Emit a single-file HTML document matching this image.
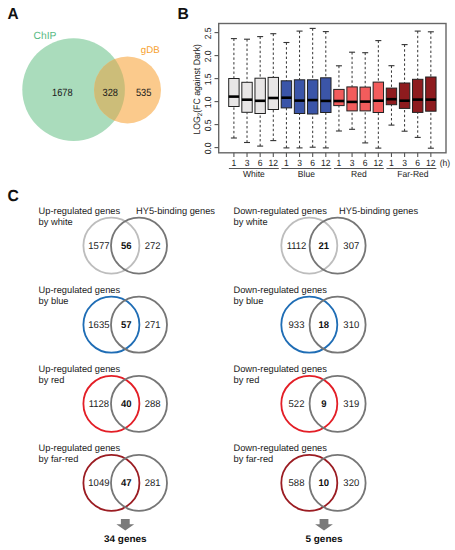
<!DOCTYPE html>
<html><head><meta charset="utf-8"><style>
html,body{margin:0;padding:0;background:#fff;width:455px;height:550px;overflow:hidden}
svg{display:block}
text{font-family:"Liberation Sans", sans-serif;text-rendering:geometricPrecision}
</style></head><body>
<svg width="455" height="550" viewBox="0 0 455 550">
<text transform="translate(7.6 19.1) scale(0.96 1)" font-size="16" font-weight="bold" fill="#111">A</text>
<defs><clipPath id="gclip"><circle cx="73.6" cy="89.6" r="51.3"/></clipPath></defs>
<circle cx="73.6" cy="89.6" r="51.3" fill="#aadcbc"/>
<circle cx="127.5" cy="89.9" r="33.5" fill="#fbca8c"/>
<circle cx="127.5" cy="89.9" r="33.5" fill="#ccbd79" clip-path="url(#gclip)"/>
<text x="33.6" y="38.5" font-size="10.3" fill="#58ba84">ChIP</text>
<text x="140.8" y="52.8" font-size="9.7" fill="#f7a02e">gDB</text>
<text transform="translate(62.3 96.2) scale(0.88 1)" text-anchor="middle" font-size="10.5" fill="#1a1a1a">1678</text>
<text transform="translate(110.2 96) scale(0.88 1)" text-anchor="middle" font-size="10.5" fill="#1a1a1a">328</text>
<text transform="translate(143.6 96) scale(0.88 1)" text-anchor="middle" font-size="10.5" fill="#1a1a1a">535</text>
<text transform="translate(177.6 19.1) scale(0.98 1)" font-size="16" font-weight="bold" fill="#111">B</text>
<rect x="218.7" y="23.5" width="227.30" height="129.30" fill="none" stroke="#666" stroke-width="1.4"/>
<line x1="214.5" y1="147.60" x2="218.7" y2="147.60" stroke="#555" stroke-width="1.1"/>
<text transform="translate(211.4 148.40) rotate(-90) scale(0.95 1)" text-anchor="middle" font-size="9" fill="#222">0.0</text>
<line x1="214.5" y1="124.60" x2="218.7" y2="124.60" stroke="#555" stroke-width="1.1"/>
<text transform="translate(211.4 125.40) rotate(-90) scale(0.95 1)" text-anchor="middle" font-size="9" fill="#222">0.5</text>
<line x1="214.5" y1="101.60" x2="218.7" y2="101.60" stroke="#555" stroke-width="1.1"/>
<text transform="translate(211.4 102.40) rotate(-90) scale(0.95 1)" text-anchor="middle" font-size="9" fill="#222">1.0</text>
<line x1="214.5" y1="78.60" x2="218.7" y2="78.60" stroke="#555" stroke-width="1.1"/>
<text transform="translate(211.4 79.40) rotate(-90) scale(0.95 1)" text-anchor="middle" font-size="9" fill="#222">1.5</text>
<line x1="214.5" y1="55.60" x2="218.7" y2="55.60" stroke="#555" stroke-width="1.1"/>
<text transform="translate(211.4 56.40) rotate(-90) scale(0.95 1)" text-anchor="middle" font-size="9" fill="#222">2.0</text>
<line x1="214.5" y1="32.60" x2="218.7" y2="32.60" stroke="#555" stroke-width="1.1"/>
<text transform="translate(211.4 33.40) rotate(-90) scale(0.95 1)" text-anchor="middle" font-size="9" fill="#222">2.5</text>
<text transform="translate(199.9 89.3) rotate(-90) scale(0.93 1)" text-anchor="middle" font-size="9.4" fill="#222">LOG<tspan font-size="6.5" dy="2">2</tspan><tspan dy="-2">(FC against Dark)</tspan></text>
<line x1="233.90" y1="38.6" x2="233.90" y2="78.5" stroke="#333" stroke-width="1" stroke-dasharray="2.4 2.3"/>
<line x1="233.90" y1="138" x2="233.90" y2="106.5" stroke="#333" stroke-width="1" stroke-dasharray="2.4 2.3"/>
<line x1="230.90" y1="38.6" x2="236.90" y2="38.6" stroke="#333" stroke-width="1.1"/>
<line x1="230.90" y1="138" x2="236.90" y2="138" stroke="#333" stroke-width="1.1"/>
<rect x="228.70" y="78.5" width="10.40" height="28.00" fill="#e8e6e6" stroke="#222" stroke-width="1"/>
<line x1="228.70" y1="96.6" x2="239.10" y2="96.6" stroke="#000" stroke-width="2.6"/>
<line x1="233.90" y1="152.8" x2="233.90" y2="157" stroke="#555" stroke-width="1.1"/>
<text transform="translate(233.90 165.7) scale(0.95 1)" text-anchor="middle" font-size="9" fill="#222">1</text>
<line x1="247.03" y1="39.2" x2="247.03" y2="82.3" stroke="#333" stroke-width="1" stroke-dasharray="2.4 2.3"/>
<line x1="247.03" y1="142.5" x2="247.03" y2="112.3" stroke="#333" stroke-width="1" stroke-dasharray="2.4 2.3"/>
<line x1="244.03" y1="39.2" x2="250.03" y2="39.2" stroke="#333" stroke-width="1.1"/>
<line x1="244.03" y1="142.5" x2="250.03" y2="142.5" stroke="#333" stroke-width="1.1"/>
<rect x="241.83" y="82.3" width="10.40" height="30.00" fill="#e8e6e6" stroke="#222" stroke-width="1"/>
<line x1="241.83" y1="99.7" x2="252.23" y2="99.7" stroke="#000" stroke-width="2.6"/>
<line x1="247.03" y1="152.8" x2="247.03" y2="157" stroke="#555" stroke-width="1.1"/>
<text transform="translate(247.03 165.7) scale(0.95 1)" text-anchor="middle" font-size="9" fill="#222">3</text>
<line x1="260.16" y1="36.6" x2="260.16" y2="78.2" stroke="#333" stroke-width="1" stroke-dasharray="2.4 2.3"/>
<line x1="260.16" y1="146.1" x2="260.16" y2="113.5" stroke="#333" stroke-width="1" stroke-dasharray="2.4 2.3"/>
<line x1="257.16" y1="36.6" x2="263.16" y2="36.6" stroke="#333" stroke-width="1.1"/>
<line x1="257.16" y1="146.1" x2="263.16" y2="146.1" stroke="#333" stroke-width="1.1"/>
<rect x="254.96" y="78.2" width="10.40" height="35.30" fill="#e8e6e6" stroke="#222" stroke-width="1"/>
<line x1="254.96" y1="100.8" x2="265.36" y2="100.8" stroke="#000" stroke-width="2.6"/>
<line x1="260.16" y1="152.8" x2="260.16" y2="157" stroke="#555" stroke-width="1.1"/>
<text transform="translate(260.16 165.7) scale(0.95 1)" text-anchor="middle" font-size="9" fill="#222">6</text>
<line x1="273.29" y1="33.7" x2="273.29" y2="77.4" stroke="#333" stroke-width="1" stroke-dasharray="2.4 2.3"/>
<line x1="273.29" y1="140.6" x2="273.29" y2="109.5" stroke="#333" stroke-width="1" stroke-dasharray="2.4 2.3"/>
<line x1="270.29" y1="33.7" x2="276.29" y2="33.7" stroke="#333" stroke-width="1.1"/>
<line x1="270.29" y1="140.6" x2="276.29" y2="140.6" stroke="#333" stroke-width="1.1"/>
<rect x="268.09" y="77.4" width="10.40" height="32.10" fill="#e8e6e6" stroke="#222" stroke-width="1"/>
<line x1="268.09" y1="98" x2="278.49" y2="98" stroke="#000" stroke-width="2.6"/>
<line x1="273.29" y1="152.8" x2="273.29" y2="157" stroke="#555" stroke-width="1.1"/>
<text transform="translate(273.29 165.7) scale(0.95 1)" text-anchor="middle" font-size="9" fill="#222">12</text>
<line x1="286.42" y1="42.5" x2="286.42" y2="80.8" stroke="#333" stroke-width="1" stroke-dasharray="2.4 2.3"/>
<line x1="286.42" y1="147.9" x2="286.42" y2="107.9" stroke="#333" stroke-width="1" stroke-dasharray="2.4 2.3"/>
<line x1="283.42" y1="42.5" x2="289.42" y2="42.5" stroke="#333" stroke-width="1.1"/>
<line x1="283.42" y1="147.9" x2="289.42" y2="147.9" stroke="#333" stroke-width="1.1"/>
<rect x="281.22" y="80.8" width="10.40" height="27.10" fill="#3b55a8" stroke="#222" stroke-width="1"/>
<line x1="281.22" y1="97.7" x2="291.62" y2="97.7" stroke="#000" stroke-width="2.6"/>
<line x1="286.42" y1="152.8" x2="286.42" y2="157" stroke="#555" stroke-width="1.1"/>
<text transform="translate(286.42 165.7) scale(0.95 1)" text-anchor="middle" font-size="9" fill="#222">1</text>
<line x1="299.55" y1="31.1" x2="299.55" y2="79.8" stroke="#333" stroke-width="1" stroke-dasharray="2.4 2.3"/>
<line x1="299.55" y1="147.9" x2="299.55" y2="113.5" stroke="#333" stroke-width="1" stroke-dasharray="2.4 2.3"/>
<line x1="296.55" y1="31.1" x2="302.55" y2="31.1" stroke="#333" stroke-width="1.1"/>
<line x1="296.55" y1="147.9" x2="302.55" y2="147.9" stroke="#333" stroke-width="1.1"/>
<rect x="294.35" y="79.8" width="10.40" height="33.70" fill="#3b55a8" stroke="#222" stroke-width="1"/>
<line x1="294.35" y1="100.6" x2="304.75" y2="100.6" stroke="#000" stroke-width="2.6"/>
<line x1="299.55" y1="152.8" x2="299.55" y2="157" stroke="#555" stroke-width="1.1"/>
<text transform="translate(299.55 165.7) scale(0.95 1)" text-anchor="middle" font-size="9" fill="#222">3</text>
<line x1="312.68" y1="28.4" x2="312.68" y2="79.8" stroke="#333" stroke-width="1" stroke-dasharray="2.4 2.3"/>
<line x1="312.68" y1="147.2" x2="312.68" y2="114" stroke="#333" stroke-width="1" stroke-dasharray="2.4 2.3"/>
<line x1="309.68" y1="28.4" x2="315.68" y2="28.4" stroke="#333" stroke-width="1.1"/>
<line x1="309.68" y1="147.2" x2="315.68" y2="147.2" stroke="#333" stroke-width="1.1"/>
<rect x="307.48" y="79.8" width="10.40" height="34.20" fill="#3b55a8" stroke="#222" stroke-width="1"/>
<line x1="307.48" y1="100.1" x2="317.88" y2="100.1" stroke="#000" stroke-width="2.6"/>
<line x1="312.68" y1="152.8" x2="312.68" y2="157" stroke="#555" stroke-width="1.1"/>
<text transform="translate(312.68 165.7) scale(0.95 1)" text-anchor="middle" font-size="9" fill="#222">6</text>
<line x1="325.81" y1="31.6" x2="325.81" y2="77.8" stroke="#333" stroke-width="1" stroke-dasharray="2.4 2.3"/>
<line x1="325.81" y1="147.9" x2="325.81" y2="112.5" stroke="#333" stroke-width="1" stroke-dasharray="2.4 2.3"/>
<line x1="322.81" y1="31.6" x2="328.81" y2="31.6" stroke="#333" stroke-width="1.1"/>
<line x1="322.81" y1="147.9" x2="328.81" y2="147.9" stroke="#333" stroke-width="1.1"/>
<rect x="320.61" y="77.8" width="10.40" height="34.70" fill="#3b55a8" stroke="#222" stroke-width="1"/>
<line x1="320.61" y1="100.9" x2="331.01" y2="100.9" stroke="#000" stroke-width="2.6"/>
<line x1="325.81" y1="152.8" x2="325.81" y2="157" stroke="#555" stroke-width="1.1"/>
<text transform="translate(325.81 165.7) scale(0.95 1)" text-anchor="middle" font-size="9" fill="#222">12</text>
<line x1="338.94" y1="65.8" x2="338.94" y2="89.4" stroke="#333" stroke-width="1" stroke-dasharray="2.4 2.3"/>
<line x1="338.94" y1="131" x2="338.94" y2="105.6" stroke="#333" stroke-width="1" stroke-dasharray="2.4 2.3"/>
<line x1="335.94" y1="65.8" x2="341.94" y2="65.8" stroke="#333" stroke-width="1.1"/>
<line x1="335.94" y1="131" x2="341.94" y2="131" stroke="#333" stroke-width="1.1"/>
<rect x="333.74" y="89.4" width="10.40" height="16.20" fill="#f35c5c" stroke="#222" stroke-width="1"/>
<line x1="333.74" y1="101" x2="344.14" y2="101" stroke="#000" stroke-width="2.6"/>
<line x1="338.94" y1="152.8" x2="338.94" y2="157" stroke="#555" stroke-width="1.1"/>
<text transform="translate(338.94 165.7) scale(0.95 1)" text-anchor="middle" font-size="9" fill="#222">1</text>
<line x1="352.07" y1="52.2" x2="352.07" y2="86.9" stroke="#333" stroke-width="1" stroke-dasharray="2.4 2.3"/>
<line x1="352.07" y1="129.3" x2="352.07" y2="110.9" stroke="#333" stroke-width="1" stroke-dasharray="2.4 2.3"/>
<line x1="349.07" y1="52.2" x2="355.07" y2="52.2" stroke="#333" stroke-width="1.1"/>
<line x1="349.07" y1="129.3" x2="355.07" y2="129.3" stroke="#333" stroke-width="1.1"/>
<rect x="346.87" y="86.9" width="10.40" height="24.00" fill="#f35c5c" stroke="#222" stroke-width="1"/>
<line x1="346.87" y1="101.9" x2="357.27" y2="101.9" stroke="#000" stroke-width="2.6"/>
<line x1="352.07" y1="152.8" x2="352.07" y2="157" stroke="#555" stroke-width="1.1"/>
<text transform="translate(352.07 165.7) scale(0.95 1)" text-anchor="middle" font-size="9" fill="#222">3</text>
<line x1="365.20" y1="52.7" x2="365.20" y2="87.1" stroke="#333" stroke-width="1" stroke-dasharray="2.4 2.3"/>
<line x1="365.20" y1="142.9" x2="365.20" y2="110.9" stroke="#333" stroke-width="1" stroke-dasharray="2.4 2.3"/>
<line x1="362.20" y1="52.7" x2="368.20" y2="52.7" stroke="#333" stroke-width="1.1"/>
<line x1="362.20" y1="142.9" x2="368.20" y2="142.9" stroke="#333" stroke-width="1.1"/>
<rect x="360.00" y="87.1" width="10.40" height="23.80" fill="#f35c5c" stroke="#222" stroke-width="1"/>
<line x1="360.00" y1="101.6" x2="370.40" y2="101.6" stroke="#000" stroke-width="2.6"/>
<line x1="365.20" y1="152.8" x2="365.20" y2="157" stroke="#555" stroke-width="1.1"/>
<text transform="translate(365.20 165.7) scale(0.95 1)" text-anchor="middle" font-size="9" fill="#222">6</text>
<line x1="378.33" y1="40.6" x2="378.33" y2="82.1" stroke="#333" stroke-width="1" stroke-dasharray="2.4 2.3"/>
<line x1="378.33" y1="148.1" x2="378.33" y2="112.5" stroke="#333" stroke-width="1" stroke-dasharray="2.4 2.3"/>
<line x1="375.33" y1="40.6" x2="381.33" y2="40.6" stroke="#333" stroke-width="1.1"/>
<line x1="375.33" y1="148.1" x2="381.33" y2="148.1" stroke="#333" stroke-width="1.1"/>
<rect x="373.13" y="82.1" width="10.40" height="30.40" fill="#f35c5c" stroke="#222" stroke-width="1"/>
<line x1="373.13" y1="100.7" x2="383.53" y2="100.7" stroke="#000" stroke-width="2.6"/>
<line x1="378.33" y1="152.8" x2="378.33" y2="157" stroke="#555" stroke-width="1.1"/>
<text transform="translate(378.33 165.7) scale(0.95 1)" text-anchor="middle" font-size="9" fill="#222">12</text>
<line x1="391.46" y1="65.7" x2="391.46" y2="88.1" stroke="#333" stroke-width="1" stroke-dasharray="2.4 2.3"/>
<line x1="391.46" y1="125.1" x2="391.46" y2="104.7" stroke="#333" stroke-width="1" stroke-dasharray="2.4 2.3"/>
<line x1="388.46" y1="65.7" x2="394.46" y2="65.7" stroke="#333" stroke-width="1.1"/>
<line x1="388.46" y1="125.1" x2="394.46" y2="125.1" stroke="#333" stroke-width="1.1"/>
<rect x="386.26" y="88.1" width="10.40" height="16.60" fill="#8e1b1e" stroke="#222" stroke-width="1"/>
<line x1="386.26" y1="99.2" x2="396.66" y2="99.2" stroke="#000" stroke-width="2.6"/>
<line x1="391.46" y1="152.8" x2="391.46" y2="157" stroke="#555" stroke-width="1.1"/>
<text transform="translate(391.46 165.7) scale(0.95 1)" text-anchor="middle" font-size="9" fill="#222">1</text>
<line x1="404.59" y1="44.6" x2="404.59" y2="83" stroke="#333" stroke-width="1" stroke-dasharray="2.4 2.3"/>
<line x1="404.59" y1="131.2" x2="404.59" y2="108.4" stroke="#333" stroke-width="1" stroke-dasharray="2.4 2.3"/>
<line x1="401.59" y1="44.6" x2="407.59" y2="44.6" stroke="#333" stroke-width="1.1"/>
<line x1="401.59" y1="131.2" x2="407.59" y2="131.2" stroke="#333" stroke-width="1.1"/>
<rect x="399.39" y="83" width="10.40" height="25.40" fill="#8e1b1e" stroke="#222" stroke-width="1"/>
<line x1="399.39" y1="100.7" x2="409.79" y2="100.7" stroke="#000" stroke-width="2.6"/>
<line x1="404.59" y1="152.8" x2="404.59" y2="157" stroke="#555" stroke-width="1.1"/>
<text transform="translate(404.59 165.7) scale(0.95 1)" text-anchor="middle" font-size="9" fill="#222">3</text>
<line x1="417.72" y1="31.1" x2="417.72" y2="79.3" stroke="#333" stroke-width="1" stroke-dasharray="2.4 2.3"/>
<line x1="417.72" y1="137.4" x2="417.72" y2="112.4" stroke="#333" stroke-width="1" stroke-dasharray="2.4 2.3"/>
<line x1="414.72" y1="31.1" x2="420.72" y2="31.1" stroke="#333" stroke-width="1.1"/>
<line x1="414.72" y1="137.4" x2="420.72" y2="137.4" stroke="#333" stroke-width="1.1"/>
<rect x="412.52" y="79.3" width="10.40" height="33.10" fill="#8e1b1e" stroke="#222" stroke-width="1"/>
<line x1="412.52" y1="99.6" x2="422.92" y2="99.6" stroke="#000" stroke-width="2.6"/>
<line x1="417.72" y1="152.8" x2="417.72" y2="157" stroke="#555" stroke-width="1.1"/>
<text transform="translate(417.72 165.7) scale(0.95 1)" text-anchor="middle" font-size="9" fill="#222">6</text>
<line x1="430.85" y1="31.8" x2="430.85" y2="77" stroke="#333" stroke-width="1" stroke-dasharray="2.4 2.3"/>
<line x1="430.85" y1="148.2" x2="430.85" y2="111.2" stroke="#333" stroke-width="1" stroke-dasharray="2.4 2.3"/>
<line x1="427.85" y1="31.8" x2="433.85" y2="31.8" stroke="#333" stroke-width="1.1"/>
<line x1="427.85" y1="148.2" x2="433.85" y2="148.2" stroke="#333" stroke-width="1.1"/>
<rect x="425.65" y="77" width="10.40" height="34.20" fill="#8e1b1e" stroke="#222" stroke-width="1"/>
<line x1="425.65" y1="99.6" x2="436.05" y2="99.6" stroke="#000" stroke-width="2.6"/>
<line x1="430.85" y1="152.8" x2="430.85" y2="157" stroke="#555" stroke-width="1.1"/>
<text transform="translate(430.85 165.7) scale(0.95 1)" text-anchor="middle" font-size="9" fill="#222">12</text>
<line x1="228.90" y1="168.5" x2="278.79" y2="168.5" stroke="#555" stroke-width="1.1"/>
<text transform="translate(253.85 176.5) scale(0.96 1)" text-anchor="middle" font-size="8.9" fill="#222">White</text>
<line x1="281.42" y1="168.5" x2="331.31" y2="168.5" stroke="#555" stroke-width="1.1"/>
<text transform="translate(306.37 176.5) scale(0.96 1)" text-anchor="middle" font-size="8.9" fill="#222">Blue</text>
<line x1="333.94" y1="168.5" x2="383.83" y2="168.5" stroke="#555" stroke-width="1.1"/>
<text transform="translate(358.88 176.5) scale(0.96 1)" text-anchor="middle" font-size="8.9" fill="#222">Red</text>
<line x1="386.46" y1="168.5" x2="436.35" y2="168.5" stroke="#555" stroke-width="1.1"/>
<text transform="translate(412.91 176.5) scale(0.96 1)" text-anchor="middle" font-size="8.9" fill="#222">Far-Red</text>
<text transform="translate(439.7 166) scale(0.95 1)" font-size="9" fill="#222">(h)</text>
<text transform="translate(7.4 201.1) scale(0.98 1)" font-size="16" font-weight="bold" fill="#111">C</text>
<text transform="translate(38.60 213.90) scale(0.99 1)" font-size="9.4" fill="#222">Up-regulated genes</text>
<text transform="translate(38.60 224.90) scale(0.99 1)" font-size="9.4" fill="#222">by white</text>
<circle cx="111.4" cy="245.60" r="28" fill="none" stroke="#bdbdbd" stroke-width="1.8"/>
<circle cx="139" cy="245.60" r="28" fill="none" stroke="#767676" stroke-width="1.8"/>
<text transform="translate(98.90 249.00) scale(0.97 1)" text-anchor="middle" font-size="9.8" fill="#222">1577</text>
<text transform="translate(126.30 249.00) scale(0.97 1)" text-anchor="middle" font-size="9.8" font-weight="bold" fill="#111">56</text>
<text transform="translate(152.60 249.00) scale(0.97 1)" text-anchor="middle" font-size="9.8" fill="#222">272</text>
<text transform="translate(38.60 293.00) scale(0.99 1)" font-size="9.4" fill="#222">Up-regulated genes</text>
<text transform="translate(38.60 304.00) scale(0.99 1)" font-size="9.4" fill="#222">by blue</text>
<circle cx="111.4" cy="324.70" r="28" fill="none" stroke="#1f6db5" stroke-width="1.8"/>
<circle cx="139" cy="324.70" r="28" fill="none" stroke="#767676" stroke-width="1.8"/>
<text transform="translate(98.90 328.10) scale(0.97 1)" text-anchor="middle" font-size="9.8" fill="#222">1635</text>
<text transform="translate(126.30 328.10) scale(0.97 1)" text-anchor="middle" font-size="9.8" font-weight="bold" fill="#111">57</text>
<text transform="translate(152.60 328.10) scale(0.97 1)" text-anchor="middle" font-size="9.8" fill="#222">271</text>
<text transform="translate(38.60 372.10) scale(0.99 1)" font-size="9.4" fill="#222">Up-regulated genes</text>
<text transform="translate(38.60 383.10) scale(0.99 1)" font-size="9.4" fill="#222">by red</text>
<circle cx="111.4" cy="403.80" r="28" fill="none" stroke="#e31e26" stroke-width="1.8"/>
<circle cx="139" cy="403.80" r="28" fill="none" stroke="#767676" stroke-width="1.8"/>
<text transform="translate(98.90 407.20) scale(0.97 1)" text-anchor="middle" font-size="9.8" fill="#222">1128</text>
<text transform="translate(126.30 407.20) scale(0.97 1)" text-anchor="middle" font-size="9.8" font-weight="bold" fill="#111">40</text>
<text transform="translate(152.60 407.20) scale(0.97 1)" text-anchor="middle" font-size="9.8" fill="#222">288</text>
<text transform="translate(38.60 451.20) scale(0.99 1)" font-size="9.4" fill="#222">Up-regulated genes</text>
<text transform="translate(38.60 462.20) scale(0.99 1)" font-size="9.4" fill="#222">by far-red</text>
<circle cx="111.4" cy="482.90" r="28" fill="none" stroke="#9b1c22" stroke-width="1.8"/>
<circle cx="139" cy="482.90" r="28" fill="none" stroke="#767676" stroke-width="1.8"/>
<text transform="translate(98.90 486.30) scale(0.97 1)" text-anchor="middle" font-size="9.8" fill="#222">1049</text>
<text transform="translate(126.30 486.30) scale(0.97 1)" text-anchor="middle" font-size="9.8" font-weight="bold" fill="#111">47</text>
<text transform="translate(152.60 486.30) scale(0.97 1)" text-anchor="middle" font-size="9.8" fill="#222">281</text>
<text transform="translate(136.00 213.60) scale(0.99 1)" font-size="9.4" fill="#222">HY5-binding genes</text>
<text transform="translate(233.50 213.90) scale(0.99 1)" font-size="9.4" fill="#222">Down-regulated genes</text>
<text transform="translate(233.50 224.90) scale(0.99 1)" font-size="9.4" fill="#222">by white</text>
<circle cx="309.3" cy="245.60" r="28" fill="none" stroke="#bdbdbd" stroke-width="1.8"/>
<circle cx="337.6" cy="245.60" r="28" fill="none" stroke="#767676" stroke-width="1.8"/>
<text transform="translate(296.50 249.00) scale(0.97 1)" text-anchor="middle" font-size="9.8" fill="#222">1112</text>
<text transform="translate(323.80 249.00) scale(0.97 1)" text-anchor="middle" font-size="9.8" font-weight="bold" fill="#111">21</text>
<text transform="translate(351.30 249.00) scale(0.97 1)" text-anchor="middle" font-size="9.8" fill="#222">307</text>
<text transform="translate(233.50 293.00) scale(0.99 1)" font-size="9.4" fill="#222">Down-regulated genes</text>
<text transform="translate(233.50 304.00) scale(0.99 1)" font-size="9.4" fill="#222">by blue</text>
<circle cx="309.3" cy="324.70" r="28" fill="none" stroke="#1f6db5" stroke-width="1.8"/>
<circle cx="337.6" cy="324.70" r="28" fill="none" stroke="#767676" stroke-width="1.8"/>
<text transform="translate(296.50 328.10) scale(0.97 1)" text-anchor="middle" font-size="9.8" fill="#222">933</text>
<text transform="translate(323.80 328.10) scale(0.97 1)" text-anchor="middle" font-size="9.8" font-weight="bold" fill="#111">18</text>
<text transform="translate(351.30 328.10) scale(0.97 1)" text-anchor="middle" font-size="9.8" fill="#222">310</text>
<text transform="translate(233.50 372.10) scale(0.99 1)" font-size="9.4" fill="#222">Down-regulated genes</text>
<text transform="translate(233.50 383.10) scale(0.99 1)" font-size="9.4" fill="#222">by red</text>
<circle cx="309.3" cy="403.80" r="28" fill="none" stroke="#e31e26" stroke-width="1.8"/>
<circle cx="337.6" cy="403.80" r="28" fill="none" stroke="#767676" stroke-width="1.8"/>
<text transform="translate(296.50 407.20) scale(0.97 1)" text-anchor="middle" font-size="9.8" fill="#222">522</text>
<text transform="translate(323.80 407.20) scale(0.97 1)" text-anchor="middle" font-size="9.8" font-weight="bold" fill="#111">9</text>
<text transform="translate(351.30 407.20) scale(0.97 1)" text-anchor="middle" font-size="9.8" fill="#222">319</text>
<text transform="translate(233.50 451.20) scale(0.99 1)" font-size="9.4" fill="#222">Down-regulated genes</text>
<text transform="translate(233.50 462.20) scale(0.99 1)" font-size="9.4" fill="#222">by far-red</text>
<circle cx="309.3" cy="482.90" r="28" fill="none" stroke="#9b1c22" stroke-width="1.8"/>
<circle cx="337.6" cy="482.90" r="28" fill="none" stroke="#767676" stroke-width="1.8"/>
<text transform="translate(296.50 486.30) scale(0.97 1)" text-anchor="middle" font-size="9.8" fill="#222">588</text>
<text transform="translate(323.80 486.30) scale(0.97 1)" text-anchor="middle" font-size="9.8" font-weight="bold" fill="#111">10</text>
<text transform="translate(351.30 486.30) scale(0.97 1)" text-anchor="middle" font-size="9.8" fill="#222">320</text>
<text transform="translate(339.10 213.60) scale(0.99 1)" font-size="9.4" fill="#222">HY5-binding genes</text>
<path d="M120.90 519 H129.70 V524.2 H134.20 L125.30 530.6 L116.40 524.2 H120.90 Z" fill="#7a7a7a"/>
<path d="M319.60 519 H328.40 V524.2 H332.90 L324.00 530.6 L315.10 524.2 H319.60 Z" fill="#7a7a7a"/>
<text transform="translate(125.30 541.80) scale(1.04 1)" text-anchor="middle" font-size="9.6" font-weight="bold" fill="#111">34 genes</text>
<text transform="translate(324.00 541.80) scale(1.04 1)" text-anchor="middle" font-size="9.6" font-weight="bold" fill="#111">5 genes</text>
</svg></body></html>
